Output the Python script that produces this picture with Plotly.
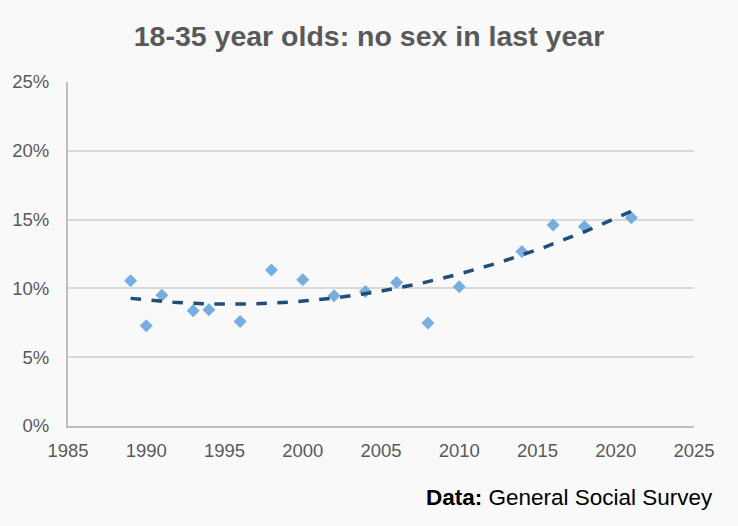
import numpy as np
import plotly.graph_objects as go

years = [1989, 1990, 1991, 1993, 1994, 1996, 1998, 2000, 2002, 2004, 2006, 2008, 2010, 2014, 2016, 2018, 2021]
pct_no_sex = [10.55, 7.28, 9.5, 8.37, 8.44, 7.6, 11.33, 10.62, 9.47, 9.78, 10.43, 7.49, 10.12, 12.68, 14.6, 14.5, 15.13]

x_ticks = [1985, 1990, 1995, 2000, 2005, 2010, 2015, 2020, 2025]
y_ticks = [0, 5, 10, 15, 20, 25]
y_tick_labels = ["0%", "5%", "10%", "15%", "20%", "25%"]

# Polynomial (order 2) trendline fitted to the data, as in the source spreadsheet
coef = np.polyfit(years, pct_no_sex, 2)
trend_x = np.linspace(min(years), max(years), 200)
trend_y = np.polyval(coef, trend_x)

fig = go.Figure()
fig.add_trace(go.Scatter(
    x=years, y=pct_no_sex, mode="markers",
    marker=dict(symbol="diamond", size=10, color="#78AEDD"),
    showlegend=False, hoverinfo="x+y"))
fig.add_trace(go.Scatter(
    x=trend_x, y=trend_y, mode="lines",
    line=dict(color="#1F4E79", width=3.5, dash="dash"),
    showlegend=False, hoverinfo="skip"))

fig.update_layout(
    width=738, height=526,
    margin=dict(l=68, r=44, t=82, b=100, autoexpand=False),
    paper_bgcolor="#F9F9F9", plot_bgcolor="#F9F9F9",
    font=dict(family="Liberation Sans, Arial, sans-serif", color="#595959", size=18),
    title=dict(text="<b>18-35 year olds: no sex in last year</b>",
               x=0.5, xanchor="center", y=0.932, yanchor="middle",
               font=dict(size=28.5, color="#595959")),
    xaxis=dict(range=[1985, 2025], tickvals=x_ticks, showgrid=False,
               showline=True, linecolor="#BFBFBF", linewidth=2,
               zeroline=False, ticks="", ticklabelstandoff=7, automargin=False,
               tickfont=dict(size=18.5, color="#595959")),
    yaxis=dict(range=[0, 25], tickvals=y_ticks, ticktext=y_tick_labels,
               showgrid=True, gridcolor="#D9D9D9", gridwidth=1.5,
               showline=True, linecolor="#BFBFBF", linewidth=2,
               zeroline=False, ticks="", ticklabelstandoff=13, automargin=False,
               tickfont=dict(size=18.5, color="#595959")),
    annotations=[dict(
        text="<b>Data:</b> General Social Survey",
        xref="paper", yref="paper", x=(715 - 68) / 626, y=-(497 - 426) / 344,
        xanchor="right", yanchor="middle", showarrow=False,
        font=dict(size=22.5, color="#000000"))],
)

fig.write_html("out.html")
